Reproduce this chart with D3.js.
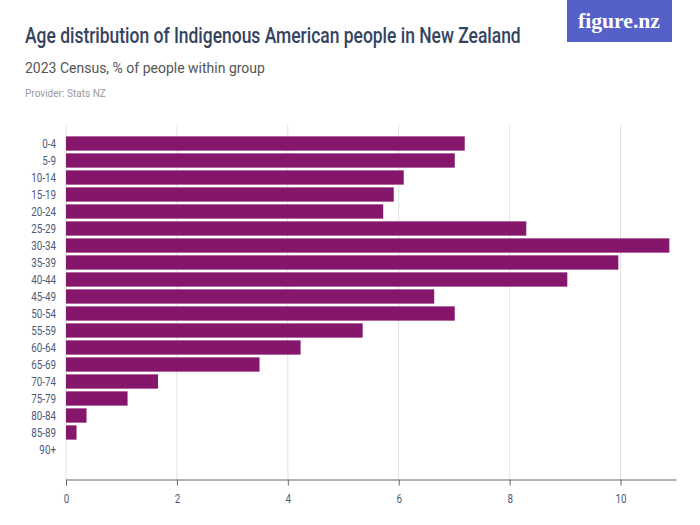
<!DOCTYPE html>
<html>
<head>
<meta charset="utf-8">
<script src="https://cdn.jsdelivr.net/npm/d3@7"></script>
<style>
  body { margin: 0; background: #fff; }
  text { font-family: "Roboto", "Noto Sans", sans-serif; }
</style>
</head>
<body>
<div id="chart"></div>
<script>
const width = 700;
const height = 525;

// age groups and % of people within group
const ageGroups = ["0-4", "5-9", "10-14", "15-19", "20-24", "25-29", "30-34", "35-39", "40-44",
  "45-49", "50-54", "55-59", "60-64", "65-69", "70-74", "75-79", "80-84", "85-89", "90+"];
const percents = [7.19, 7.01, 6.09, 5.91, 5.72, 8.30, 10.88, 9.96, 9.04,
  6.64, 7.01, 5.35, 4.23, 3.49, 1.66, 1.11, 0.37, 0.19, 0];
const xTicks = [0, 2, 4, 6, 8, 10];

const margin = { top: 135, left: 66, right: 24, bottom: 46 };

const svg = d3.select("#chart").append("svg")
  .attr("width", width)
  .attr("height", height);

// squeeze text horizontally to look like the narrow figure.nz font
// target > 2 means a width in px, otherwise a ratio
function narrow(sel, target) {
  sel.each(function () {
    const el = d3.select(this);
    const w = this.getComputedTextLength();
    const s = target > 2 ? target / w : (target || 0.84);
    const tx = +el.attr("x") || 0, ty = +el.attr("y") || 0;
    const prev = el.attr("transform") || "";
    el.attr("x", 0).attr("y", 0)
      .attr("transform", `${prev} translate(${tx},${ty}) scale(${s},1)`);
  });
}

// titles
svg.append("text")
  .attr("x", 25).attr("y", 43)
  .attr("font-size", 22)
  .attr("font-weight", 500)
  .attr("fill", "#34435f")
  .text("Age distribution of Indigenous American people in New Zealand")
  .call(narrow, 496);

svg.append("text")
  .attr("x", 25).attr("y", 73)
  .attr("font-size", 15.5)
  .attr("fill", "#555")
  .text("2023 Census, % of people within group")
  .call(narrow, 240);

svg.append("text")
  .attr("x", 25).attr("y", 97)
  .attr("font-size", 10.5)
  .attr("fill", "#9a9a9a")
  .text("Provider: Stats NZ")
  .call(narrow, 81);

// logo
svg.append("rect")
  .attr("x", 567).attr("y", 0)
  .attr("width", 105).attr("height", 42)
  .attr("fill", "#5660c9");
svg.append("text")
  .attr("x", 578).attr("y", 28)
  .attr("font-size", 21)
  .attr("font-weight", "bold")
  .attr("fill", "#fff")
  .style("font-family", "'Liberation Serif', serif")
  .text("figure.nz")
  .call(narrow, 82);

const x = d3.scaleLinear()
  .domain([0, 11])
  .range([margin.left, width - margin.right]);

const y = d3.scaleBand()
  .domain(ageGroups)
  .range([margin.top, margin.top + 17 * ageGroups.length])
  .paddingInner(0.16)
  .paddingOuter(0.08);

const axisY = 479.5;

// gridlines
svg.append("g")
  .selectAll("line")
  .data(xTicks)
  .enter()
  .append("line")
  .attr("x1", d => x(d)).attr("x2", d => x(d))
  .attr("y1", 125).attr("y2", axisY)
  .attr("stroke", "#e2e2e2")
  .attr("stroke-width", 1);

// bars
svg.append("g")
  .selectAll("rect")
  .data(percents)
  .enter()
  .append("rect")
  .attr("x", x(0))
  .attr("y", (d, i) => y(ageGroups[i]))
  .attr("width", d => x(d) - x(0))
  .attr("height", y.bandwidth())
  .attr("fill", "#86166c");

// y labels
svg.append("g")
  .selectAll("text")
  .data(ageGroups)
  .enter()
  .append("text")
  .attr("x", 56)
  .attr("y", d => y(d) + y.bandwidth() / 2)
  .attr("dy", "0.35em")
  .attr("text-anchor", "end")
  .attr("font-size", 12)
  .attr("fill", "#4d5b78")
  .text(d => d)
  .call(narrow, 0.82);

// x axis
const xAxis = d3.axisBottom(x)
  .tickValues(xTicks)
  .tickSize(6)
  .tickSizeOuter(0);

const gx = svg.append("g")
  .attr("transform", `translate(0, ${axisY})`)
  .call(xAxis);
gx.select(".domain").attr("stroke", "#666");
gx.selectAll(".tick line").attr("stroke", "#666");
gx.selectAll(".tick text")
  .attr("fill", "#4d5b78")
  .attr("font-size", 12)
  .attr("dy", "1.2em")
  .style("font-family", "Roboto, sans-serif")
  .call(narrow, 0.82);
</script>
</body>
</html>
